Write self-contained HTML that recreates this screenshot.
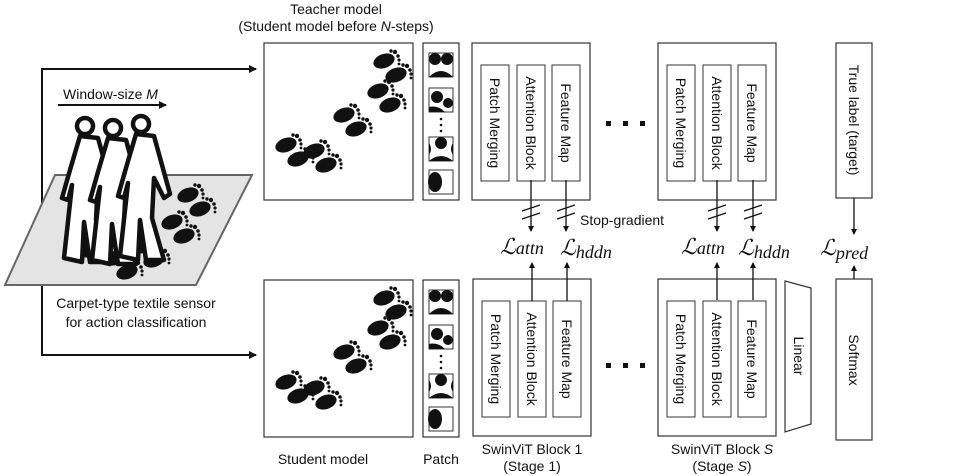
<!DOCTYPE html>
<html><head><meta charset="utf-8"><style>
body{margin:0;background:#fff}
svg{display:block}
text{font-family:"Liberation Sans",sans-serif;fill:#111}
.m{font-family:"Liberation Serif",serif;font-style:italic}
</style></head><body>
<svg width="960" height="476" viewBox="0 0 960 476" xmlns="http://www.w3.org/2000/svg">
<defs>
<marker id="ah" markerWidth="8" markerHeight="8" refX="7" refY="4" orient="auto" markerUnits="userSpaceOnUse"><path d="M0,0 L8,4 L0,8 Z" fill="#111"/></marker>
<marker id="as" markerWidth="6" markerHeight="6" refX="5" refY="3" orient="auto" markerUnits="userSpaceOnUse"><path d="M0,0 L6,3 L0,6 Z" fill="#111"/></marker>
<g id="fp"><ellipse cx="0" cy="0" rx="11" ry="7" transform="rotate(-20)" fill="#111"/><circle cx="11" cy="-9" r="2.2" fill="#111"/><circle cx="14" cy="-5" r="1.8" fill="#111"/><circle cx="15" cy="-1" r="1.6" fill="#111"/><circle cx="15" cy="3" r="1.4" fill="#111"/><circle cx="7" cy="-10" r="1.7" fill="#111"/></g>
<g id="pair"><use href="#fp"/><use href="#fp" x="12" y="14"/></g>
<g id="ft">
<use href="#pair" x="120" y="18"/>
<use href="#pair" x="114" y="48"/>
<use href="#pair" x="80" y="72"/>
<use href="#pair" x="22" y="102"/>
<use href="#pair" x="50" y="108"/>
</g>
<g id="pt">
<rect x="0" y="0" width="36" height="157" fill="#fff" stroke="#333" stroke-width="1.2"/>
<rect x="6" y="10" width="24" height="24" fill="#fff" stroke="#333"/><circle cx="12" cy="16" r="6" fill="#111"/><circle cx="24" cy="16" r="6" fill="#111"/><path d="M6,34 Q18,22 30,34Z" fill="#111"/>
<rect x="6" y="45" width="24" height="24" fill="#fff" stroke="#333"/><circle cx="14" cy="54" r="6" fill="#111"/><circle cx="25" cy="60" r="5" fill="#111"/><path d="M6,69 L6,64 Q15,62 22,69Z" fill="#111"/>
<circle cx="18" cy="76" r="1.3" fill="#111"/><circle cx="18" cy="82" r="1.3" fill="#111"/><circle cx="18" cy="88" r="1.3" fill="#111"/>
<rect x="6" y="94" width="24" height="24" fill="#fff" stroke="#333"/><circle cx="18" cy="100" r="6" fill="#111"/><path d="M6,118 Q18,108 30,118Z" fill="#111"/><path d="M6,100 Q10,106 6,112Z M30,100 Q26,106 30,112Z" fill="#111"/>
<rect x="6" y="127" width="24" height="24" fill="#fff" stroke="#333"/><ellipse cx="12" cy="139" rx="7" ry="10" fill="#111"/>
</g>
<g id="blk">
<rect x="0" y="0" width="118" height="157" fill="#fff" stroke="#333" stroke-width="1.2"/>
<rect x="9" y="22" width="28" height="116" fill="#fff" stroke="#333"/>
<rect x="45" y="22" width="28" height="116" fill="#fff" stroke="#333"/>
<rect x="80" y="22" width="28" height="116" fill="#fff" stroke="#333"/>
<text transform="translate(18,80) rotate(90)" text-anchor="middle" font-size="14">Patch Merging</text>
<text transform="translate(54,80) rotate(90)" text-anchor="middle" font-size="14">Attention Block</text>
<text transform="translate(89,80) rotate(90)" text-anchor="middle" font-size="14">Feature Map</text>
</g>
</defs>

<path d="M42,283 L42,69 L256,69" fill="none" stroke="#111" stroke-width="2" marker-end="url(#ah)"/>
<path d="M42,285 L42,355 L256,355" fill="none" stroke="#111" stroke-width="2" marker-end="url(#ah)"/>
<line x1="58" y1="105" x2="166" y2="105" stroke="#111" stroke-width="2" marker-end="url(#ah)"/>
<text x="63" y="99" font-size="14">Window-size <tspan font-style="italic">M</tspan></text>

<polygon points="55,175 252,175 196,285 5,285" fill="#e4e4e4" stroke="#666" stroke-width="2"/>
<use href="#pair" x="188" y="195"/>
<use href="#pair" x="172" y="222"/>
<use href="#pair" x="78" y="236"/>
<use href="#pair" x="115" y="258"/>
<use href="#pair" x="142" y="246"/>
<g fill="#fff" stroke="#111" stroke-width="4.5" stroke-linejoin="round">
<g id="w"><circle cx="85" cy="126" r="8"/><path d="M80,136 L70,170 L62,198 L68,200 L72,185 L64,258 L82,262 L84,222 L90,262 L108,262 L96,220 L98,180 L108,200 L114,196 L98,138 Z"/></g>
<use href="#w" x="28" y="2"/>
<use href="#w" x="56" y="-2"/>
</g>
<text x="136" y="308" font-size="14" text-anchor="middle">Carpet-type textile sensor</text>
<text x="136" y="327" font-size="14" text-anchor="middle">for action classification</text>

<text x="336" y="14" font-size="14" text-anchor="middle">Teacher model</text>
<text x="336" y="31" font-size="14" text-anchor="middle">(Student model before <tspan font-style="italic">N</tspan>-steps)</text>
<rect x="264" y="43" width="149" height="157" fill="#fff" stroke="#333" stroke-width="1.2"/>
<g transform="translate(264,43)"><use href="#ft"/></g>
<use href="#pt" x="423" y="43"/>
<use href="#blk" x="472" y="43"/>
<use href="#blk" x="658" y="43"/>
<g fill="#111"><rect x="606" y="121" width="5" height="5"/><rect x="623" y="121" width="5" height="5"/><rect x="640" y="121" width="5" height="5"/>
<rect x="606" y="363" width="5" height="5"/><rect x="623" y="363" width="5" height="5"/><rect x="640" y="363" width="5" height="5"/></g>
<rect x="836" y="43" width="36" height="155" fill="#fff" stroke="#333" stroke-width="1.2"/>
<text transform="translate(849,120) rotate(90)" text-anchor="middle" font-size="14">True label (target)</text>

<rect x="264" y="280" width="149" height="157" fill="#fff" stroke="#333" stroke-width="1.2"/>
<g transform="translate(264,280)"><use href="#ft"/></g>
<use href="#pt" x="423" y="280"/>
<use href="#blk" x="473" y="279"/>
<use href="#blk" x="658" y="279"/>
<polygon points="785,281 811,288 811,424 785,432" fill="#fff" stroke="#333" stroke-width="1.2"/>
<text transform="translate(794,356) rotate(90)" text-anchor="middle" font-size="14">Linear</text>
<rect x="836" y="279" width="36" height="161" fill="#fff" stroke="#333" stroke-width="1.2"/>
<text transform="translate(849,360) rotate(90)" text-anchor="middle" font-size="14">Softmax</text>

<g stroke="#111" stroke-width="1.3" fill="none">
<line x1="531" y1="180" x2="531" y2="231" marker-end="url(#as)"/>
<line x1="566" y1="180" x2="566" y2="231" marker-end="url(#as)"/>
<line x1="717" y1="180" x2="717" y2="231" marker-end="url(#as)"/>
<line x1="753" y1="180" x2="753" y2="231" marker-end="url(#as)"/>
<line x1="854" y1="198" x2="854" y2="234" marker-end="url(#as)"/>
<path d="M522,211 L540,205 M522,219 L540,213"/>
<path d="M557,211 L575,205 M557,219 L575,213"/>
<path d="M708,211 L726,205 M708,219 L726,213"/>
<path d="M744,211 L762,205 M744,219 L762,213"/>
<line x1="532" y1="301" x2="532" y2="263" marker-end="url(#as)"/>
<line x1="567" y1="301" x2="567" y2="263" marker-end="url(#as)"/>
<line x1="717" y1="300" x2="717" y2="263" marker-end="url(#as)"/>
<line x1="753" y1="300" x2="753" y2="263" marker-end="url(#as)"/>
<line x1="854" y1="279" x2="854" y2="266" marker-end="url(#as)"/>
</g>
<text x="580" y="225" font-size="14">Stop-gradient</text>
<text class="m" x="500" y="254" font-size="22">ℒ<tspan font-size="18">attn</tspan></text>
<text class="m" x="560" y="255" font-size="22">ℒ<tspan font-size="18" dy="3">hddn</tspan></text>
<text class="m" x="681" y="254" font-size="22">ℒ<tspan font-size="18">attn</tspan></text>
<text class="m" x="738" y="255" font-size="22">ℒ<tspan font-size="18" dy="3">hddn</tspan></text>
<text class="m" x="820" y="255" font-size="22">ℒ<tspan font-size="18" dy="4">pred</tspan></text>

<text x="323" y="464" font-size="14" text-anchor="middle">Student model</text>
<text x="441" y="464" font-size="14" text-anchor="middle">Patch</text>
<text x="532" y="454" font-size="14" text-anchor="middle">SwinViT Block 1</text>
<text x="532" y="471" font-size="14" text-anchor="middle">(Stage 1)</text>
<text x="722" y="454" font-size="14" text-anchor="middle">SwinViT Block <tspan font-style="italic">S</tspan></text>
<text x="722" y="471" font-size="14" text-anchor="middle">(Stage <tspan font-style="italic">S</tspan>)</text>
</svg>
</body></html>
